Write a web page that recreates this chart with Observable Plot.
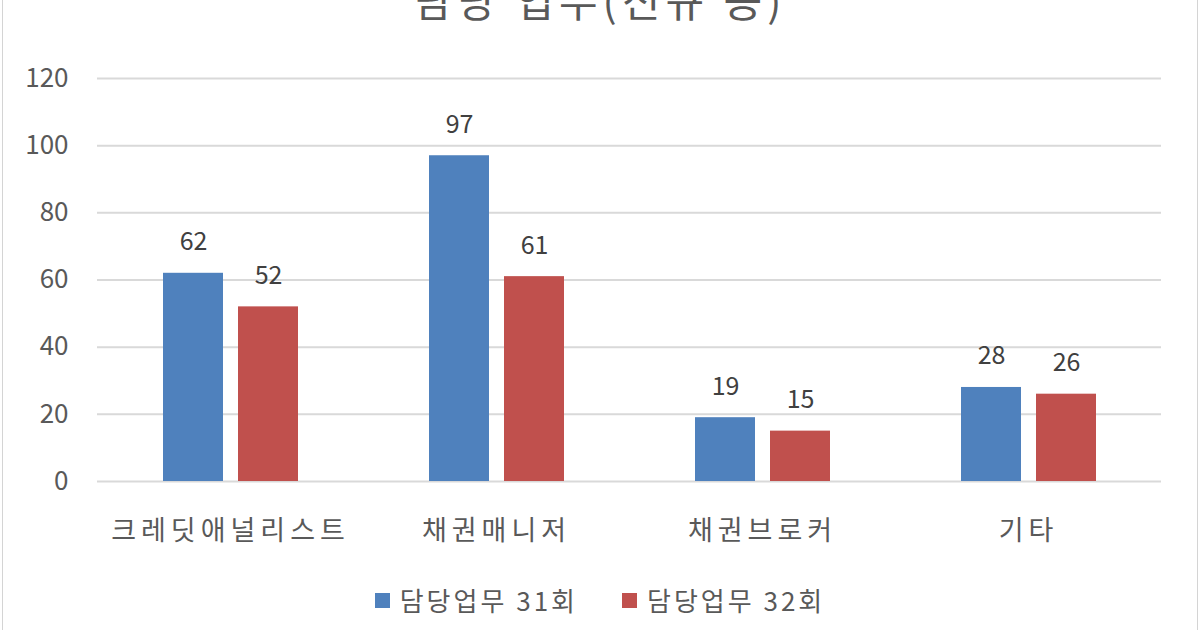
<!DOCTYPE html>
<html>
<head>
<meta charset="utf-8">
<script src="https://cdn.jsdelivr.net/npm/d3@7"></script>
<script src="https://cdn.jsdelivr.net/npm/@observablehq/plot@0.6"></script>
<style>
  html, body { margin: 0; padding: 0; background: #fff; overflow: hidden; }
  body { width: 1200px; height: 630px; position: relative; font-family: "Noto Sans CJK KR", sans-serif; }
  #frame { position: absolute; left: 2px; top: -2px; width: 1196px; height: 640px; border: 1px solid #d4d4d4; box-sizing: border-box; pointer-events: none; }
  #title { position: absolute; top: -22px; left: 0; width: 1200px; text-align: center; font-size: 42px; line-height: 1; color: #595959; letter-spacing: 5px; white-space: pre; }
  #chart { position: absolute; left: 0; top: 0; }
  #legend { position: absolute; left: 0; top: 585px; width: 1200px; display: flex; justify-content: center; align-items: center; gap: 44px; font-size: 26px; line-height: 30px; color: #595959; letter-spacing: 3px; }
  .item { display: flex; align-items: center; gap: 10px; }
  .sw { width: 15px; height: 15px; display: inline-block; }
  g[aria-label="fx-axis tick label"] text { letter-spacing: 5px; }
</style>
</head>
<body>
<div id="title"></div>
<div id="chart"></div>
<div id="legend"></div>
<div id="frame"></div>
<script>
const titleText = "담당 업무(신규 등)";
const categories = ["크레딧애널리스트", "채권매니저", "채권브로커", "기타"];
const series = ["담당업무 31회", "담당업무 32회"];
const values31 = [62, 97, 19, 28];
const values32 = [52, 61, 15, 26];
const yTicks = [0, 20, 40, 60, 80, 100, 120];
const colors = ["#4F81BD", "#C0504D"];

const data = categories.flatMap((c, i) => [
  {category: c, series: series[0], value: values31[i]},
  {category: c, series: series[1], value: values32[i]}
]);

document.getElementById("title").textContent = titleText;

const chart = Plot.plot({
  width: 1200,
  height: 560,
  marginLeft: 96,
  marginRight: 38,
  marginTop: 78,
  marginBottom: 79,
  style: {fontFamily: '"Noto Sans CJK KR", sans-serif', background: "transparent"},
  fx: {domain: categories, padding: 0, label: null},
  x: {domain: series, paddingInner: 0.2, paddingOuter: 0.873, axis: null},
  y: {domain: [0, 120], label: null},
  color: {domain: series, range: colors},
  marks: [
    Plot.gridY(yTicks, {stroke: "#d9d9d9", strokeOpacity: 1, strokeWidth: 2}),
    Plot.axisY(yTicks, {tickSize: 0, tickPadding: 29, fontSize: 26, fill: "#595959", label: null}),
    Plot.barY(data, {fx: "category", x: "series", y: "value", fill: "series"}),
    Plot.text(data, {fx: "category", x: "series", y: "value", text: d => String(d.value), dy: -31, fontSize: 25, fill: "#404040"}),
    Plot.axisFx({anchor: "bottom", tickSize: 0, tickPadding: 39, fontSize: 27, fill: "#595959", label: null})
  ]
});
document.getElementById("chart").appendChild(chart);

const legend = document.getElementById("legend");
series.forEach((s, i) => {
  const item = document.createElement("div");
  item.className = "item";
  const sw = document.createElement("span");
  sw.className = "sw";
  sw.style.background = colors[i];
  const t = document.createElement("span");
  t.textContent = s;
  item.appendChild(sw);
  item.appendChild(t);
  legend.appendChild(item);
});
</script>
</body>
</html>
